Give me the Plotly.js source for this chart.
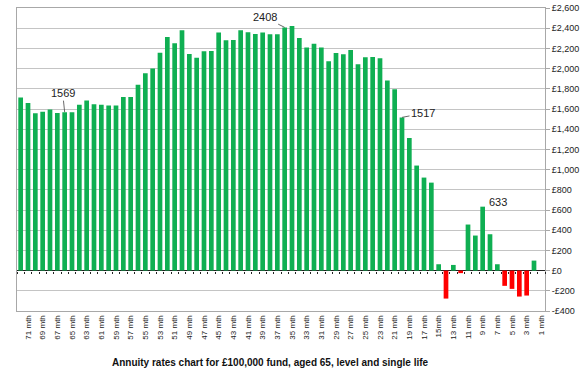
<!DOCTYPE html>
<html>
<head>
<meta charset="utf-8">
<script src="https://cdn.plot.ly/plotly-3.0.1.min.js"></script>
<style>html,body{margin:0;padding:0;background:#fff;}#chart{width:582px;height:380px;}</style>
</head>
<body>
<div id="chart"></div>
<script>
// Categories (months remaining), left to right
const months = ["72 mth","71 mth","70 mth","69 mth","68 mth","67 mth","66 mth","65 mth","64 mth","63 mth",
  "62 mth","61 mth","60 mth","59 mth","58 mth","57 mth","56 mth","55 mth","54 mth","53 mth",
  "52 mth","51 mth","50 mth","49 mth","48 mth","47 mth","46 mth","45 mth","44 mth","43 mth",
  "42 mth","41 mth","40 mth","39 mth","38 mth","37 mth","36 mth","35 mth","34 mth","33 mth",
  "32 mth","31 mth","30 mth","29 mth","28 mth","27 mth","26 mth","25 mth","24 mth","23 mth",
  "22 mth","21 mth","20 mth","19 mth","18 mth","17 mth","16 mth","15mth","14 mth","13 mth",
  "12 mth","11 mth","10 mth","9 mth","8 mth","7 mth","6 mth","5 mth","4 mth","3 mth","2 mth","1 mth"];

// Annuity rate change (GBP)
const values = [1715,1660,1558,1574,1594,1561,1569,1568,1641,1683,
  1647,1641,1634,1634,1720,1720,1839,1954,2000,2158,
  2314,2251,2380,2145,2108,2172,2175,2357,2281,2284,
  2380,2360,2343,2357,2340,2340,2408,2423,2304,2208,
  2245,2208,2073,2155,2142,2185,2043,2112,2115,2102,
  1881,1796,1517,1314,1040,921,871,63,-277,56,
  -25,456,347,633,360,63,-151,-181,-257,-247,99,0];

// X tick labels shown (every other month)
const xTickLabels = ["71 mth","69 mth","67 mth","65 mth","63 mth","61 mth","59 mth","57 mth","55 mth","53 mth",
  "51 mth","49 mth","47 mth","45 mth","43 mth","41 mth","39 mth","37 mth","35 mth","33 mth",
  "31 mth","29 mth","27 mth","25 mth","23 mth","21 mth","19 mth","17 mth","15mth","13 mth",
  "11 mth","9 mth","7 mth","5 mth","3 mth","1 mth"];

// Y ticks
const yTickVals = [-400,-200,0,200,400,600,800,1000,1200,1400,1600,1800,2000,2200,2400,2600];
const yTickLabels = ["-£400","-£200","£0","£200","£400","£600","£800","£1,000","£1,200","£1,400","£1,600","£1,800","£2,000","£2,200","£2,400","£2,600"];

// Labelled bars
const labelled = ["66 mth","36 mth","20 mth","9 mth"];

const yRange = [-400, 2600];
const colors = values.map(v => v < 0 ? "#FF0000" : "#0FAF52");

const traces = [
  {type:"bar", x: months, y: values, marker:{color: colors, line:{width:0}}, hoverinfo:"x+y", showlegend:false},
  {type:"scatter", x: [], y: [], xaxis:"x2", showlegend:false, hoverinfo:"skip"}
];

const annStyle = [
  {ax:-2, ay:-19, showarrow:true},
  {ax:-20, ay:-10, showarrow:true},
  {ax:21, ay:-4, showarrow:true},
  {showarrow:false, xshift:15, yshift:5}
];
const annotations = labelled.map((m, i) => {
  const v = values[months.indexOf(m)];
  return Object.assign({
    x: m, y: v, xref:"x", yref:"y", text: String(v),
    font:{family:"Liberation Sans, Arial, sans-serif", size:11, color:"#222"},
    arrowhead:0, arrowwidth:0.8, arrowcolor:"#444", standoff:0
  }, annStyle[i]);
});

const layout = {
  width:582, height:380,
  margin:{l:17, r:37, t:8, b:69},
  paper_bgcolor:"#fff", plot_bgcolor:"#fff",
  bargap:0.36,
  font:{family:"Liberation Sans, Arial, sans-serif", color:"#222"},
  title:{text:"<b>Annuity rates chart for £100,000 fund, aged 65, level and single life</b>",
    font:{family:"Liberation Sans, Arial, sans-serif", size:10, color:"#111"},
    xref:"container", yref:"container", x:0.464, y:0.045, xanchor:"center", yanchor:"middle"},
  xaxis:{type:"category", categoryorder:"array", categoryarray: months,
    tickmode:"array", tickvals: xTickLabels, ticktext: xTickLabels,
    tickangle:-90, tickfont:{size:8, color:"#222"}, ticks:"",
    showgrid:false, showline:true, mirror:true, linecolor:"#A8A8A8", linewidth:1,
    range:[-0.5, months.length - 0.5], fixedrange:true},
  xaxis2:{overlaying:"x", anchor:"free", position:(0 - yRange[0])/(yRange[1]-yRange[0]),
    type:"linear", range:[-0.5, months.length - 0.5], tick0:-0.5, dtick:1,
    ticks:"outside", ticklen:2, tickwidth:1, tickcolor:"#222",
    showticklabels:false, showgrid:false, zeroline:false, showline:false},
  yaxis:{side:"right", range:yRange, tickmode:"array", tickvals:yTickVals, ticktext:yTickLabels,
    tickfont:{size:9, color:"#222"}, ticks:"outside", ticklen:4, tickcolor:"#A8A8A8",
    showgrid:true, gridcolor:"#C4C4C4", gridwidth:1,
    zeroline:true, zerolinecolor:"#222", zerolinewidth:1,
    showline:true, mirror:true, linecolor:"#A8A8A8", linewidth:1},
  annotations: annotations
};

Plotly.newPlot("chart", traces, layout, {displayModeBar:false, staticPlot:true});
</script>
</body>
</html>
